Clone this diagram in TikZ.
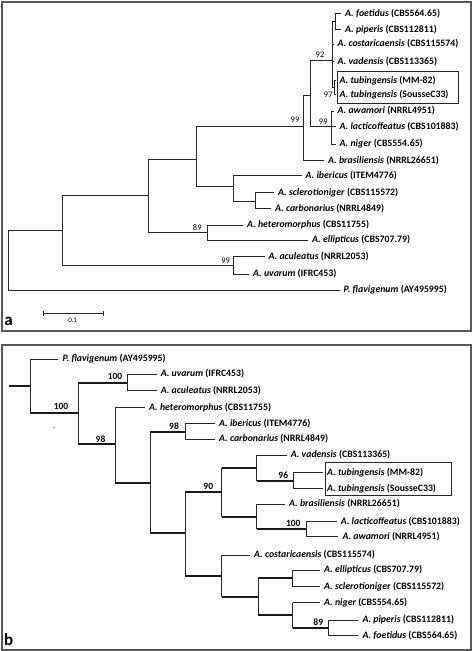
\documentclass[tikz,border=0pt]{standalone}
\usepackage{fontspec}
\setmainfont{Carlito}
\usetikzlibrary{arrows.meta,positioning}

\newcommand{\taxon}[2]{\textit{#1} (#2)}

\begin{document}
\begin{tikzpicture}[
    x=1pt, y=-1pt,
    leaf/.style={anchor=west, inner xsep=4pt, inner ysep=0pt, font=\fontsize{9.8}{11}\selectfont\bfseries},
    boot/.style={inner sep=0pt, font=\fontsize{8.5}{9}\selectfont},
    bootb/.style={inner sep=0pt, font=\fontsize{9.5}{10}\selectfont\bfseries},
    branch/.style={line width=0.8pt, black!85},
    stem/.style={line width=1.9pt, black!90},
    frame/.style={draw=black!65, line width=2pt},
    panel/.style={inner sep=0pt, font=\fontsize{17}{17}\selectfont\bfseries}
]
\useasboundingbox (0,0) rectangle (474,651);

% Frames
\draw[frame] (1.5,1.5) rectangle (471,331);
\draw[frame] (1.5,345) rectangle (471,649.5);

%%%%%%%%%% Panel a %%%%%%%%%%

% Leaves
\node[leaf] (aFoe) at (341,13.3) {\taxon{A. foetidus}{CBS564.65}};
\node[leaf] (aPip) at (341,29.5) {\taxon{A. piperis}{CBS112811}};
\node[leaf] (aCos) at (333.5,44) {\taxon{A. costaricaensis}{CBS115574}};
\node[leaf] (aVad) at (333.5,61.3) {\taxon{A. vadensis}{CBS113365}};
\node[leaf] (aTub1) at (335.5,80.3) {\taxon{A. tubingensis}{MM-82}};
\node[leaf] (aTub2) at (335.5,94.7) {\taxon{A. tubingensis}{SousseC33}};
\node[leaf] (aAwa) at (333.5,111) {\taxon{A. awamori}{NRRL4951}};
\node[leaf] (aLac) at (335.5,126.7) {\taxon{A. lacticoffeatus}{CBS101883}};
\node[leaf] (aNig) at (335.5,144) {\taxon{A. niger}{CBS554.65}};
\node[leaf] (aBra) at (324,160.7) {\taxon{A. brasiliensis}{NRRL26651}};
\node[leaf] (aIbe) at (301.5,175.7) {\taxon{A. ibericus}{ITEM4776}};
\node[leaf] (aScl) at (274,192.7) {\taxon{A. sclerotioniger}{CBS115572}};
\node[leaf] (aCar) at (271,208.7) {\taxon{A. carbonarius}{NRRL4849}};
\node[leaf] (aHet) at (243,225) {\taxon{A. heteromorphus}{CBS11755}};
\node[leaf] (aEll) at (308,240) {\taxon{A. ellipticus}{CBS707.79}};
\node[leaf] (aAcu) at (264.5,256.7) {\taxon{A. aculeatus}{NRRL2053}};
\node[leaf] (aUva) at (249,274) {\taxon{A. uvarum}{IFRC453}};
\node[leaf] (aPfl) at (339.5,290) {\taxon{P. flavigenum}{AY495995}};

% Internal nodes
\coordinate (aRoot) at (8.3,260);
\coordinate (aN1) at (62.7,230);
\coordinate (aN2) at (148.3,195.7);
\coordinate (aN3) at (196.7,159.3);
\coordinate (aN4) at (303.5,126.7);
\coordinate (aN5) at (310,95);
\coordinate (aN6) at (332.5,60.7);
\coordinate (aFP) at (335.5,21.5);
\coordinate (aTubN) at (334,87.5);
\coordinate (aNigN) at (331.7,126.7);
\coordinate (aIbeN) at (233.3,186.7);
\coordinate (aSclN) at (255,201);
\coordinate (aHetN) at (207.3,232.7);
\coordinate (aAcuN) at (233.3,265.7);

% Branches
\draw[branch] (aRoot) |- (aN1) (aRoot) |- (aPfl.west);
\draw[branch] (aN1) |- (aN2) (aN1) |- (aAcuN);
\draw[branch] (aAcuN) |- (aAcu.west) (aAcuN) |- (aUva.west);
\draw[branch] (aN2) |- (aN3) (aN2) |- (aHetN);
\draw[branch] (aHetN) |- (aHet.west) (aHetN) |- (aEll.west);
\draw[branch] (aN3) |- (aN4) (aN3) |- (aIbeN);
\draw[branch] (aIbeN) |- (aIbe.west) (aIbeN) |- (aSclN);
\draw[branch] (aSclN) |- (aScl.west) (aSclN) |- (aCar.west);
\draw[branch] (aN4) |- (aN5) (aN4) |- (aBra.west);
\draw[branch] (aN5) |- (aN6) (aN5) |- (aNigN);
\draw[branch] (aNigN) |- (aAwa.west) (aNigN) |- (aLac.west) (aNigN) |- (aNig.west);
\draw[branch] (aN6) |- (aFP) (aN6) |- (aCos.west) (aN6) |- (aVad.west) (aN6) |- (aTubN);
\draw[branch] (aFP) |- (aFoe.west) (aFP) |- (aPip.west);
\draw[branch] (aTubN) |- (aTub1.west) (aTubN) |- (aTub2.west);

% Bootstrap values
\node[boot] (aB1) at (225.7,260.3) {99};
\node[boot] (aB2) at (197.3,227.3) {89};
\node[boot] (aB3) at (295,120) {99};
\node[boot] (aB4) at (320,55) {92};
\node[boot] (aB5) at (328.3,94.3) {97};
\node[boot] (aB6) at (323.3,121.3) {99};

% Box round the isolates
\draw[branch] (337.7,71) rectangle (458.3,103.3);

% Scale bar
\coordinate (aBarL) at (42.7,313.3);
\coordinate (aBarR) at (104,313.3);
\draw[line width=0.8pt, black!85, {Bar[width=5pt]}-{Bar[width=5pt]}] (aBarL) -- (aBarR);
\node[inner sep=0pt, font=\fontsize{7}{7}\selectfont] (aScale) at (72.7,320.5) {0.1};

\node[panel] (aLabel) at (8.5,321) {a};

%%%%%%%%%% Panel b %%%%%%%%%%

% Leaves
\node[leaf] (bPfl) at (58.3,359) {\taxon{P. flavigenum}{AY495995}};
\node[leaf] (bUva) at (156.7,374) {\taxon{A. uvarum}{IFRC453}};
\node[leaf] (bAcu) at (156.7,390.7) {\taxon{A. aculeatus}{NRRL2053}};
\node[leaf] (bHet) at (145,407.3) {\taxon{A. heteromorphus}{CBS11755}};
\node[leaf] (bIbe) at (215,423.3) {\taxon{A. ibericus}{ITEM4776}};
\node[leaf] (bCar) at (215,439) {\taxon{A. carbonarius}{NRRL4849}};
\node[leaf] (bVad) at (286.7,455) {\taxon{A. vadensis}{CBS113365}};
\node[leaf] (bTub1) at (323,472.7) {\taxon{A. tubingensis}{MM-82}};
\node[leaf] (bTub2) at (323,488.3) {\taxon{A. tubingensis}{SousseC33}};
\node[leaf] (bBra) at (285,504) {\taxon{A. brasiliensis}{NRRL26651}};
\node[leaf] (bLac) at (336.7,521.7) {\taxon{A. lacticoffeatus}{CBS101883}};
\node[leaf] (bAwa) at (338.3,536.7) {\taxon{A. awamori}{NRRL4951}};
\node[leaf] (bCos) at (250,555) {\taxon{A. costaricaensis}{CBS115574}};
\node[leaf] (bEll) at (320,570) {\taxon{A. ellipticus}{CBS707.79}};
\node[leaf] (bScl) at (320,586.7) {\taxon{A. sclerotioniger}{CBS115572}};
\node[leaf] (bNig) at (320,602.7) {\taxon{A. niger}{CBS554.65}};
\node[leaf] (bPip) at (358.3,620) {\taxon{A. piperis}{CBS112811}};
\node[leaf] (bFoe) at (358.3,635.7) {\taxon{A. foetidus}{CBS564.65}};

% Internal nodes
\coordinate (bStub) at (9.3,385.7);
\coordinate (bRoot) at (30,385.7);
\coordinate (bN1) at (78.3,413.3);
\coordinate (bUvaN) at (127.3,382.7);
\coordinate (bN2) at (115,444);
\coordinate (bN3) at (150,482.7);
\coordinate (bIbeN) at (185,432.3);
\coordinate (bN4) at (185,533.3);
\coordinate (bN5) at (221.7,492.3);
\coordinate (bW) at (256.7,468.3);
\coordinate (bT) at (293.3,480.7);
\coordinate (bV) at (256.7,516.7);
\coordinate (bU) at (306,529.3);
\coordinate (bQ) at (221.7,575.7);
\coordinate (bR) at (258.3,596.7);
\coordinate (bS) at (292.7,578.3);
\coordinate (bP) at (292.7,615);
\coordinate (bO) at (328.3,627.7);

% Vertical branches
\draw[branch] (bRoot |- bPfl.west) -- (bRoot |- bN1);
\draw[branch] (bN1 |- bUvaN) -- (bN1 |- bN2);
\draw[branch] (bUvaN |- bUva.west) -- (bUvaN |- bAcu.west);
\draw[branch] (bN2 |- bHet.west) -- (bN2 |- bN3);
\draw[branch] (bN3 |- bIbeN) -- (bN3 |- bN4);
\draw[branch] (bIbeN |- bIbe.west) -- (bIbeN |- bCar.west);
\draw[branch] (bN4 |- bN5) -- (bN4 |- bQ);
\draw[branch] (bN5 |- bW) -- (bN5 |- bV);
\draw[branch] (bW |- bVad.west) -- (bW |- bT);
\draw[branch] (bT |- bTub1.west) -- (bT |- bTub2.west);
\draw[branch] (bV |- bBra.west) -- (bV |- bU);
\draw[branch] (bU |- bLac.west) -- (bU |- bAwa.west);
\draw[branch] (bQ |- bCos.west) -- (bQ |- bR);
\draw[branch] (bR |- bS) -- (bR |- bP);
\draw[branch] (bS |- bEll.west) -- (bS |- bScl.west);
\draw[branch] (bP |- bNig.west) -- (bP |- bO);
\draw[branch] (bO |- bPip.west) -- (bO |- bFoe.west);

% Internal branches (thick)
\draw[stem] (bStub) -- (bRoot);
\draw[stem] (bRoot |- bN1) -- (bN1);
\draw[stem] (bN1 |- bUvaN) -- (bUvaN);
\draw[stem] (bN1 |- bN2) -- (bN2);
\draw[stem] (bN2 |- bN3) -- (bN3);
\draw[stem] (bN3 |- bIbeN) -- (bIbeN);
\draw[stem] (bN3 |- bN4) -- (bN4);
\draw[stem] (bN4 |- bN5) -- (bN5);
\draw[stem] (bN4 |- bQ) -- (bQ);
\draw[stem] (bN5 |- bW) -- (bW);
\draw[stem] (bN5 |- bV) -- (bV);
\draw[stem] (bW |- bT) -- (bT);
\draw[stem] (bV |- bU) -- (bU);
\draw[stem] (bQ |- bR) -- (bR);
\draw[stem] (bR |- bS) -- (bS);
\draw[stem] (bR |- bP) -- (bP);
\draw[stem] (bP |- bO) -- (bO);

% Terminal branches
\draw[branch] (bRoot |- bPfl.west) -- (bPfl.west);
\draw[branch] (bUvaN |- bUva.west) -- (bUva.west);
\draw[branch] (bUvaN |- bAcu.west) -- (bAcu.west);
\draw[branch] (bN2 |- bHet.west) -- (bHet.west);
\draw[branch] (bIbeN |- bIbe.west) -- (bIbe.west);
\draw[branch] (bIbeN |- bCar.west) -- (bCar.west);
\draw[branch] (bW |- bVad.west) -- (bVad.west);
\draw[branch] (bT |- bTub1.west) -- (bTub1.west);
\draw[branch] (bT |- bTub2.west) -- (bTub2.west);
\draw[branch] (bV |- bBra.west) -- (bBra.west);
\draw[branch] (bU |- bLac.west) -- (bLac.west);
\draw[branch] (bU |- bAwa.west) -- (bAwa.west);
\draw[branch] (bQ |- bCos.west) -- (bCos.west);
\draw[branch] (bS |- bEll.west) -- (bEll.west);
\draw[branch] (bS |- bScl.west) -- (bScl.west);
\draw[branch] (bP |- bNig.west) -- (bNig.west);
\draw[branch] (bO |- bPip.west) -- (bPip.west);
\draw[branch] (bO |- bFoe.west) -- (bFoe.west);

% Bootstrap values
\node[bootb] (bB1) at (61,406) {100};
\node[bootb] (bB2) at (115,376.7) {100};
\node[bootb] (bB3) at (100.5,439.3) {98};
\node[bootb] (bB4) at (174,426) {98};
\node[bootb] (bB5) at (208.3,486.7) {90};
\node[bootb] (bB6) at (283.3,475) {96};
\node[bootb] (bB7) at (293.3,523.3) {100};
\node[bootb] (bB8) at (318.3,622.7) {89};

% Box round the isolates
\draw[branch] (325,462.7) rectangle (451.7,495.7);

% Stray dot
\fill[black!70] (54,427.3) circle (0.7);

\node[panel] (bLabel) at (8.7,640) {b};

\end{tikzpicture}
\end{document}
